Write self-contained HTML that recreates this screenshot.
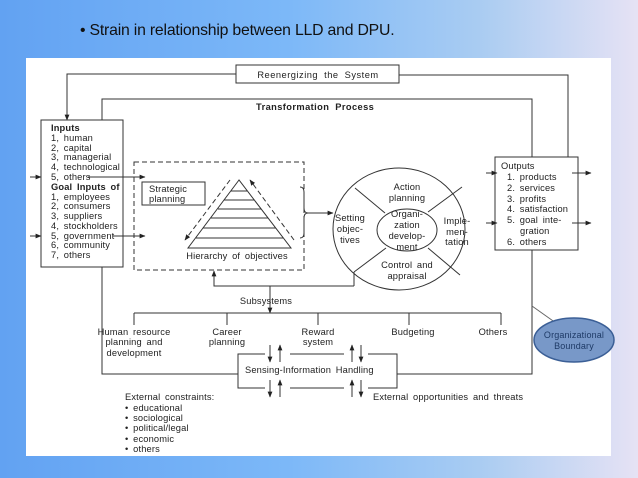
<!DOCTYPE html>
<html><head><meta charset="utf-8"><style>
html,body{margin:0;padding:0}
body{width:638px;height:478px;overflow:hidden;background:linear-gradient(to right,#62a2f2 0%,#7cb8f8 45%,#a9ccf2 75%,#e6e2f4 100%);position:relative;font-family:"Liberation Sans",sans-serif}
.t{position:absolute;left:80px;top:22px;font-size:15.8px;color:#111;font-family:"Liberation Sans",sans-serif;letter-spacing:-0.2px}
svg{position:absolute;left:0;top:0}
text{font-family:"Liberation Sans",sans-serif;font-size:9.3px;fill:#222;word-spacing:2px;letter-spacing:0.15px}
</style></head><body>
<div class="t">• Strain in relationship between LLD and DPU.</div>
<svg width="638" height="478" viewBox="0 0 638 478">
<defs><marker id="a" viewBox="0 0 10 10" refX="9" refY="5" markerWidth="6" markerHeight="6" orient="auto"><path d="M0,1 L10,5 L0,9z" fill="#222"/></marker></defs>
<rect x="26" y="58" width="585" height="398" fill="#fff"/>
<g stroke="#333" stroke-width="1" fill="none">
<rect x="236" y="65" width="163" height="18"/>
<polyline points="236,74 67,74 67,120" marker-end="url(#a)"/>
<polyline points="399,75 568,75 568,157"/>
<polyline points="102,120 102,99 532,99 532,157"/>
<polyline points="102,267 102,374 238,374"/>
<polyline points="397,374 532,374 532,250"/>
<rect x="41" y="120" width="82" height="147"/>
<line x1="30" y1="177" x2="41" y2="177" marker-end="url(#a)"/>
<line x1="30" y1="236" x2="41" y2="236" marker-end="url(#a)"/>
<line x1="88" y1="177" x2="145" y2="177" marker-end="url(#a)"/>
<line x1="113" y1="236" x2="145" y2="236" marker-end="url(#a)"/>
<rect x="134" y="162" width="170" height="108" stroke-dasharray="5,3"/>
<rect x="142" y="182" width="63" height="23"/>
<polygon points="239,180 188,248 291,248"/>
<line x1="231" y1="191" x2="247" y2="191"/><line x1="224" y1="200" x2="254" y2="200"/><line x1="218" y1="209" x2="261" y2="209"/><line x1="211" y1="218" x2="268" y2="218"/><line x1="203" y1="228" x2="276" y2="228"/><line x1="196" y1="238" x2="283" y2="238"/>
<line x1="230" y1="180" x2="185" y2="240" stroke-dasharray="5,3" marker-end="url(#a)"/>
<line x1="294" y1="240" x2="250" y2="180" stroke-dasharray="5,3" marker-end="url(#a)"/>
<path d="M300,187 Q304,187 304,192 L304,208 Q304,213 308,213 Q304,213 304,218 L304,233 Q304,238 300,238"/>
<line x1="308" y1="213" x2="333" y2="213" marker-end="url(#a)"/>
<ellipse cx="399" cy="229" rx="66" ry="61"/>
<ellipse cx="407" cy="230" rx="30" ry="21"/>
<line x1="355" y1="188" x2="385" y2="213"/>
<line x1="462" y1="187" x2="428" y2="212"/>
<line x1="354" y1="286" x2="354" y2="272"/><line x1="354" y1="272" x2="386" y2="248"/>
<line x1="428" y1="248" x2="460" y2="275"/>
<polyline points="354,286 214,286 214,271" marker-end="url(#a)"/>
<line x1="270" y1="286" x2="270" y2="313" marker-end="url(#a)"/>
<rect x="495" y="157" width="83" height="93"/>
<line x1="486" y1="173" x2="497" y2="173" marker-end="url(#a)"/>
<line x1="486" y1="223" x2="497" y2="223" marker-end="url(#a)"/>
<line x1="572" y1="173" x2="591" y2="173" marker-end="url(#a)"/>
<line x1="572" y1="223" x2="591" y2="223" marker-end="url(#a)"/>
<line x1="134" y1="313" x2="501" y2="313"/>
<line x1="134" y1="313" x2="134" y2="325"/><line x1="227" y1="313" x2="227" y2="325"/><line x1="318" y1="313" x2="318" y2="325"/><line x1="409" y1="313" x2="409" y2="325"/><line x1="501" y1="313" x2="501" y2="325"/>
<polyline points="265,354 238,354 238,388 265,388"/>
<line x1="290" y1="354" x2="344" y2="354"/><line x1="290" y1="388" x2="344" y2="388"/>
<polyline points="368,354 397,354 397,388 368,388"/>
<line x1="270" y1="345" x2="270" y2="362" marker-end="url(#a)"/><line x1="280" y1="362" x2="280" y2="345" marker-end="url(#a)"/>
<line x1="270" y1="380" x2="270" y2="397" marker-end="url(#a)"/><line x1="280" y1="397" x2="280" y2="380" marker-end="url(#a)"/>
<line x1="352" y1="362" x2="352" y2="345" marker-end="url(#a)"/><line x1="361" y1="345" x2="361" y2="362" marker-end="url(#a)"/>
<line x1="352" y1="397" x2="352" y2="380" marker-end="url(#a)"/><line x1="361" y1="380" x2="361" y2="397" marker-end="url(#a)"/>
<line x1="532" y1="306" x2="563" y2="328" stroke="#666"/>
</g>
<ellipse cx="574" cy="340" rx="40" ry="22" fill="#7898c8" stroke="#3b5f96" stroke-width="1.5"/>
<text x="574" y="338" text-anchor="middle" style="fill:#1e3a66;font-size:9px;word-spacing:0">Organizational</text>
<text x="574" y="349" text-anchor="middle" style="fill:#1e3a66;font-size:9px">Boundary</text>

<text x="318" y="78" text-anchor="middle" style="letter-spacing:0.5px;word-spacing:3px">Reenergizing the System</text>
<text x="256" y="110" style="font-weight:bold;letter-spacing:0.4px;word-spacing:3px">Transformation Process</text>
<g>
<text x="51" y="131" style="font-weight:bold">Inputs</text>
<text x="51" y="141">1, human</text>
<text x="51" y="151">2, capital</text>
<text x="51" y="160">3, managerial</text>
<text x="51" y="170">4, technological</text>
<text x="51" y="180">5, others</text>
<text x="51" y="190" style="font-weight:bold">Goal Inputs of</text>
<text x="51" y="200">1, employees</text>
<text x="51" y="209">2, consumers</text>
<text x="51" y="219">3, suppliers</text>
<text x="51" y="229">4, stockholders</text>
<text x="51" y="239">5, government</text>
<text x="51" y="248">6, community</text>
<text x="51" y="258">7, others</text>
</g>
<text x="149" y="192">Strategic</text>
<text x="149" y="202">planning</text>
<text x="237" y="259" text-anchor="middle">Hierarchy of objectives</text>
<g text-anchor="middle">
<text x="407" y="190">Action</text><text x="407" y="201">planning</text>
<text x="350" y="221">Setting</text><text x="350" y="232">objec-</text><text x="350" y="243">tives</text>
<text x="457" y="224">Imple-</text><text x="457" y="235">men-</text><text x="457" y="245">tation</text>
<text x="407" y="217">Organi-</text><text x="407" y="228">zation</text><text x="407" y="239">develop-</text><text x="407" y="250">ment</text>
<text x="407" y="268">Control and</text><text x="407" y="279">appraisal</text>
<text x="266" y="304">Subsystems</text>
<text x="134" y="335">Human resource</text><text x="134" y="345">planning and</text><text x="134" y="356">development</text>
<text x="227" y="335">Career</text><text x="227" y="345">planning</text>
<text x="318" y="335">Reward</text><text x="318" y="345">system</text>
<text x="413" y="335">Budgeting</text>
<text x="493" y="335">Others</text>
</g>
<text x="501" y="169">Outputs</text>
<text x="507" y="180">1. products</text>
<text x="507" y="191">2. services</text>
<text x="507" y="202">3. profits</text>
<text x="507" y="212">4. satisfaction</text>
<text x="507" y="223">5. goal inte-</text>
<text x="520" y="234">gration</text>
<text x="507" y="245">6. others</text>
<text x="245" y="373">Sensing-Information Handling</text>
<text x="125" y="400">External constraints:</text>
<text x="125" y="411">• educational</text>
<text x="125" y="421">• sociological</text>
<text x="125" y="431">• political/legal</text>
<text x="125" y="442">• economic</text>
<text x="125" y="452">• others</text>
<text x="373" y="400">External opportunities and threats</text>
</svg>
</body></html>
